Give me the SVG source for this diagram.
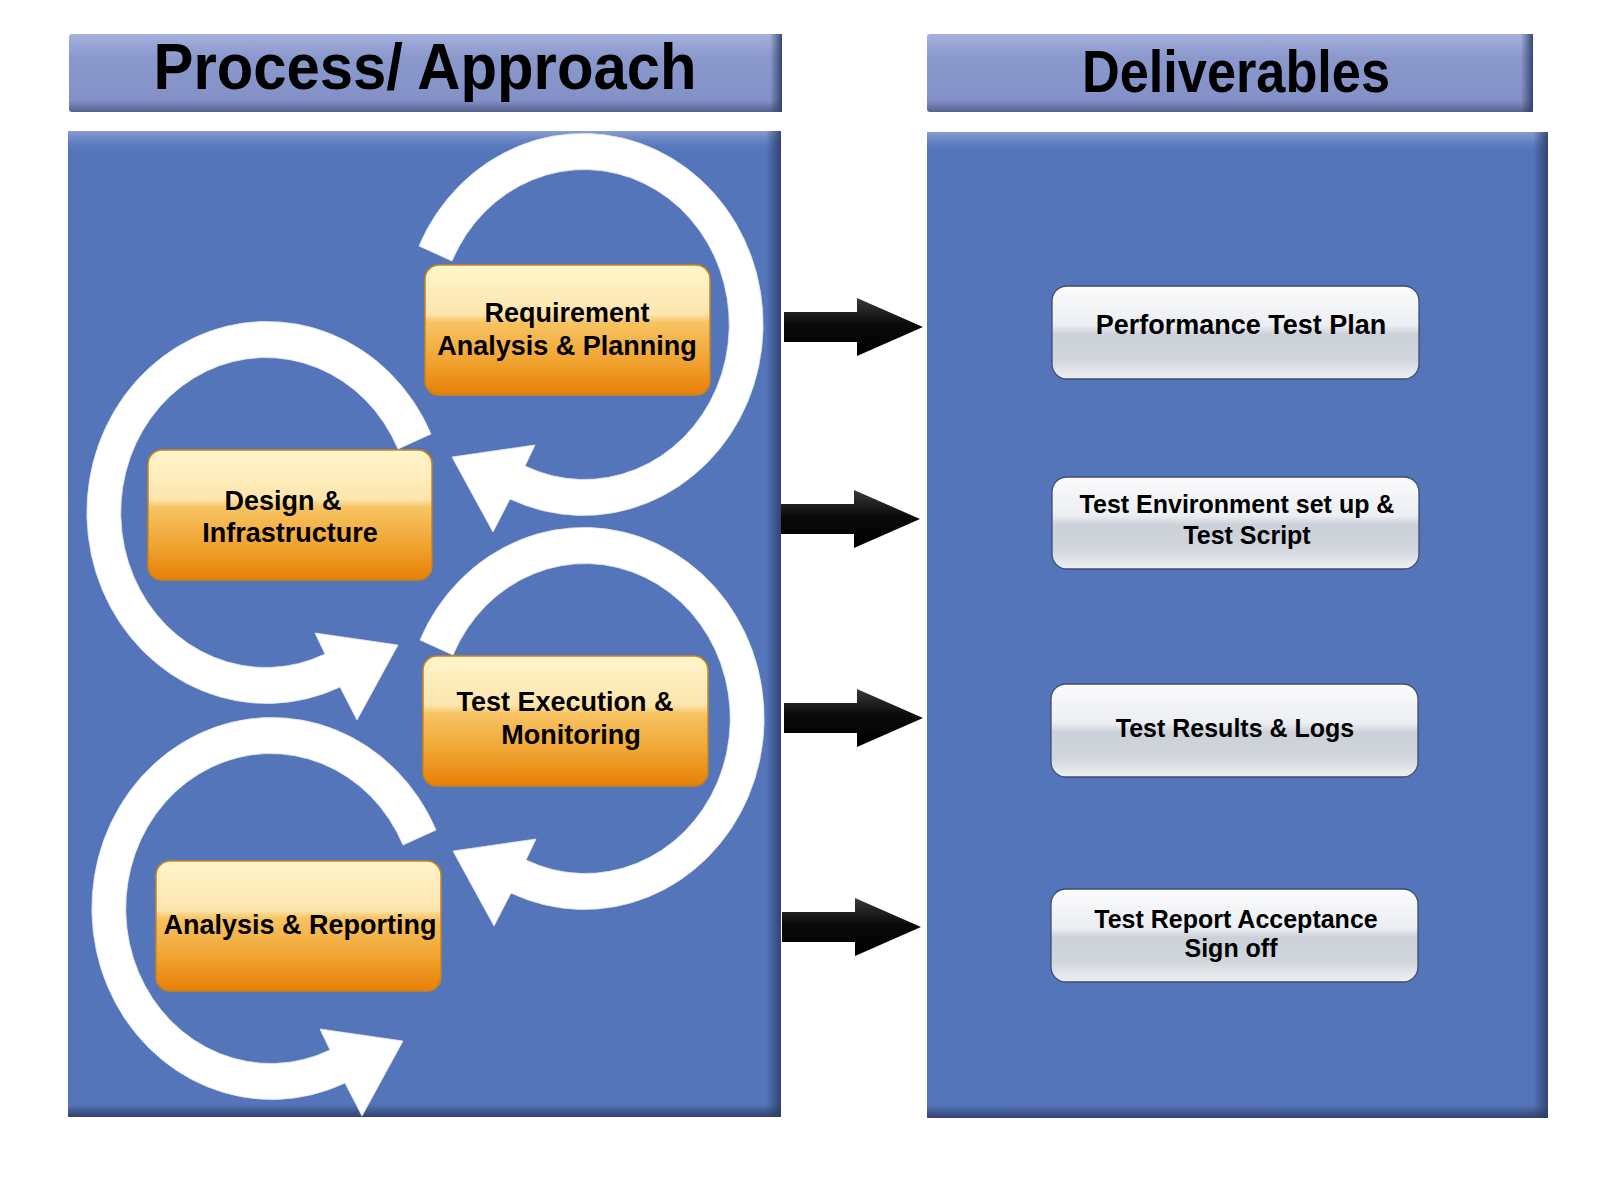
<svg xmlns="http://www.w3.org/2000/svg" xmlns:xlink="http://www.w3.org/1999/xlink" width="1600" height="1200" viewBox="0 0 1600 1200">
<style>
.hdr{font-family:"Liberation Sans",Arial,sans-serif;font-weight:bold;fill:#000;text-anchor:middle}
.otxt{font-family:"Liberation Sans",Arial,sans-serif;font-weight:bold;font-size:27px;fill:#000;text-anchor:middle}
.gtxt{font-family:"Liberation Sans",Arial,sans-serif;font-weight:bold;font-size:25px;fill:#000;text-anchor:middle}
.gbig{font-size:27px}
.obox{fill:url(#orangeG);stroke:#c98418;stroke-width:1.5}
.gbox{fill:url(#grayG);stroke:#3e4c70;stroke-width:1.3}
.arc{fill:#ffffff;stroke:#e4e8f1;stroke-width:0.8}
.blk{fill:url(#blkG)}
</style>
<defs>
<linearGradient id="hdrG" x1="0" y1="0" x2="0" y2="1">
<stop offset="0" stop-color="#a4b1dd"/>
<stop offset="0.3" stop-color="#8a98cc"/>
<stop offset="0.85" stop-color="#8391c7"/>
<stop offset="1" stop-color="#56618f"/>
</linearGradient>
<linearGradient id="edgeR" x1="0" y1="0" x2="1" y2="0">
<stop offset="0" stop-color="#2e3d66" stop-opacity="0"/>
<stop offset="1" stop-color="#2e3d66" stop-opacity="0.9"/>
</linearGradient>
<linearGradient id="edgeB" x1="0" y1="0" x2="0" y2="1">
<stop offset="0" stop-color="#2e3d66" stop-opacity="0"/>
<stop offset="1" stop-color="#2e3d66" stop-opacity="0.9"/>
</linearGradient>
<linearGradient id="edgeT" x1="0" y1="0" x2="0" y2="1">
<stop offset="0" stop-color="#8a9fd3" stop-opacity="1"/>
<stop offset="1" stop-color="#5575bb" stop-opacity="0"/>
</linearGradient>
<linearGradient id="orangeG" x1="0" y1="0" x2="0" y2="1">
<stop offset="0" stop-color="#fff5cc"/>
<stop offset="0.38" stop-color="#fce5ad"/>
<stop offset="0.44" stop-color="#f7c463"/>
<stop offset="0.75" stop-color="#f0a22f"/>
<stop offset="1" stop-color="#e67f06"/>
</linearGradient>
<linearGradient id="grayG" x1="0" y1="0" x2="0" y2="1">
<stop offset="0" stop-color="#fbfbfc"/>
<stop offset="0.42" stop-color="#eceef2"/>
<stop offset="0.52" stop-color="#ccd1d9"/>
<stop offset="0.78" stop-color="#d1d5dc"/>
<stop offset="1" stop-color="#eff0f3"/>
</linearGradient>
<linearGradient id="blkG" x1="0" y1="0" x2="0" y2="1">
<stop offset="0" stop-color="#3a3a3a"/>
<stop offset="0.45" stop-color="#0a0a0a"/>
<stop offset="1" stop-color="#000"/>
</linearGradient>
<path id="cArrow" d="M -166 -78 A 180 191 0 1 1 -75 175 L -92 208 L -133 133 L -50 121 L -60 142 A 145 155 0 1 0 -133 -63 Z"/>
<path id="bArrow" d="M 0 -15 L 73 -15 L 73 -29 L 139 0 L 73 29 L 73 15 L 0 15 Z"/>
</defs>
<rect width="1600" height="1200" fill="#ffffff"/>

<g id="header-process">
<rect x="69" y="34" width="713" height="78" rx="3" fill="url(#hdrG)"/>
<rect x="770" y="34" width="12" height="78" fill="url(#edgeR)"/>
<text class="hdr" x="425" y="89" font-size="64" textLength="543" lengthAdjust="spacingAndGlyphs">Process/ Approach</text>
</g>
<g id="header-deliverables">
<rect x="927" y="34" width="606" height="78" rx="3" fill="url(#hdrG)"/>
<rect x="1521" y="34" width="12" height="78" fill="url(#edgeR)"/>
<text class="hdr" x="1236" y="92" font-size="60" textLength="308" lengthAdjust="spacingAndGlyphs">Deliverables</text>
</g>

<g id="panel-process">
<rect x="68" y="131" width="713" height="986" rx="3" fill="#5575bb"/>
<rect x="68" y="131" width="713" height="22" fill="url(#edgeT)"/>
<rect x="766" y="131" width="15" height="986" fill="url(#edgeR)"/>
<rect x="68" y="1104" width="713" height="13" fill="url(#edgeB)"/>
</g>
<g id="panel-deliverables">
<rect x="927" y="132" width="621" height="986" rx="3" fill="#5575bb"/>
<rect x="927" y="132" width="621" height="22" fill="url(#edgeT)"/>
<rect x="1533" y="132" width="15" height="986" fill="url(#edgeR)"/>
<rect x="927" y="1105" width="621" height="13" fill="url(#edgeB)"/>
</g>

<g id="cycle-arrows">
<use xlink:href="#cArrow" href="#cArrow" class="arc" transform="translate(585,324)"/>
<use xlink:href="#cArrow" href="#cArrow" class="arc" transform="translate(265,512) scale(-1,1)"/>
<use xlink:href="#cArrow" href="#cArrow" class="arc" transform="translate(586,718)"/>
<use xlink:href="#cArrow" href="#cArrow" class="arc" transform="translate(270,908) scale(-1,1)"/>
</g>

<g id="connectors">
<use xlink:href="#bArrow" href="#bArrow" class="blk" transform="translate(784,327)"/>
<use xlink:href="#bArrow" href="#bArrow" class="blk" transform="translate(781,519)"/>
<use xlink:href="#bArrow" href="#bArrow" class="blk" transform="translate(784,718)"/>
<use xlink:href="#bArrow" href="#bArrow" class="blk" transform="translate(782,927)"/>
</g>

<g id="node-requirement">
<rect class="obox" x="425" y="265" width="285" height="130" rx="14"/>
<text class="otxt" x="567" y="322">Requirement</text>
<text class="otxt" x="567" y="355">Analysis &amp; Planning</text>
</g>
<g id="node-design">
<rect class="obox" x="148" y="450" width="284" height="130" rx="14"/>
<text class="otxt" x="283" y="510">Design &amp;</text>
<text class="otxt" x="290" y="542">Infrastructure</text>
</g>
<g id="node-execution">
<rect class="obox" x="423" y="656" width="285" height="130" rx="14"/>
<text class="otxt" x="565" y="711">Test Execution &amp;</text>
<text class="otxt" x="571" y="744">Monitoring</text>
</g>
<g id="node-analysis">
<rect class="obox" x="156" y="861" width="285" height="130" rx="14"/>
<text class="otxt" x="300" y="934">Analysis &amp; Reporting</text>
</g>

<g id="deliv-plan">
<rect class="gbox" x="1052" y="286" width="367" height="93" rx="15"/>
<text class="gtxt gbig" x="1241" y="334">Performance Test Plan</text>
</g>
<g id="deliv-env">
<rect class="gbox" x="1052" y="477" width="367" height="92" rx="15"/>
<text class="gtxt" x="1237" y="513">Test Environment set up &amp;</text>
<text class="gtxt" x="1247" y="544">Test Script</text>
</g>
<g id="deliv-results">
<rect class="gbox" x="1051" y="684" width="367" height="93" rx="15"/>
<text class="gtxt" x="1235" y="737">Test Results &amp; Logs</text>
</g>
<g id="deliv-report">
<rect class="gbox" x="1051" y="889" width="367" height="93" rx="15"/>
<text class="gtxt" x="1236" y="928">Test Report Acceptance</text>
<text class="gtxt" x="1231" y="957">Sign off</text>
</g>
</svg>
